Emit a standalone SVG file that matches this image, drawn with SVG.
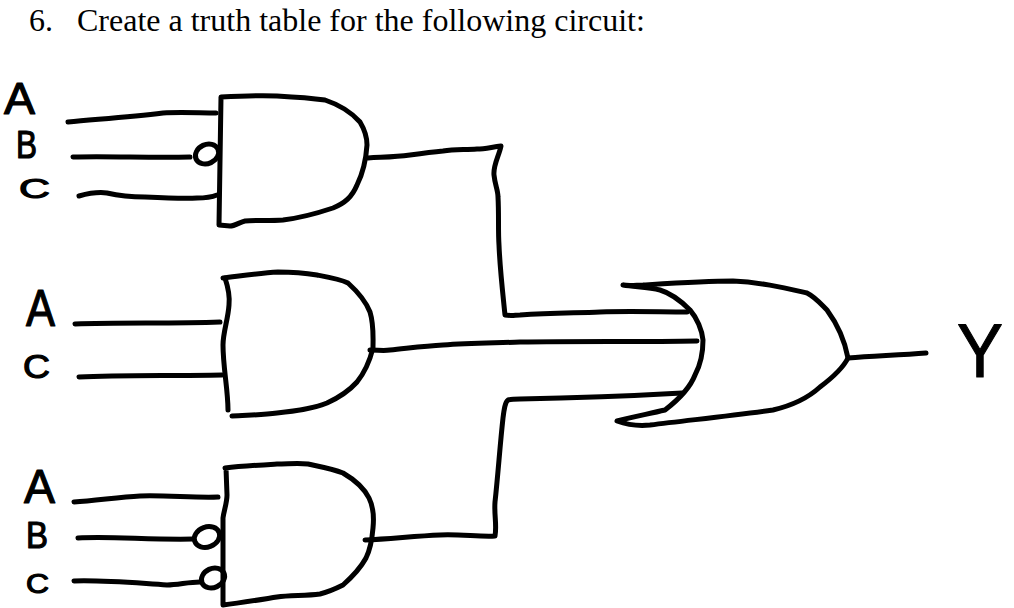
<svg xmlns="http://www.w3.org/2000/svg" width="1014" height="608" viewBox="0 0 1014 608">
<style>
.s{fill:none;stroke:#000;stroke-width:5;stroke-linecap:round;stroke-linejoin:round}
.t{font-family:"Liberation Serif","Times New Roman",serif;font-size:32px;fill:#000}
.h{font-family:"Liberation Sans",Arial,sans-serif;fill:#000;stroke:#000;stroke-width:1.200;stroke-linejoin:round}
</style>
<rect width="1014" height="608" fill="#fff"/>
<text class="t" x="29" y="31">6.</text>
<text class="t" x="77" y="31">Create a truth table for the following circuit:</text>
<g id="connectors">
<path class="s" d="M68 122C100 119 130 117 163 113C180 112 200 113 216 113"/>
<path class="s" d="M73 157C110 156 150 158 190 157"/>
<path class="s" d="M79 196C90 193 100 192 107 193C120 196 130 197 145 197C165 198 185 199 197 198C205 198 212 197 217 195"/>
<path class="s" d="M368 158C385 157 395 157 410 155C425 153 433 152 443 151C455 149 465 150 477 149C485 149 492 147 501 146C499 156 493 165 494 175C495 185 498 190 498 197C499 215 498 230 499 245C500 270 503 295 505 315C512 316 515 315 520 315C550 313 575 313 600 312C630 311 660 312 687 312"/>
<path class="s" d="M75 324C120 322 170 324 220 322"/>
<path class="s" d="M79 377C120 375 170 376 222 375"/>
<path class="s" d="M370 350C378 350 384 351 390 350C410 348 425 346 443 345C470 343 495 343 520 342C580 341 640 342 697 341"/>
<path class="s" d="M74 502C95 501 118 497 140 496C165 495 195 498 218 497"/>
<path class="s" d="M78 538C110 536 150 540 193 539"/>
<path class="s" d="M74 581C105 580 135 583 167 585C178 585 188 582 200 582"/>
<path class="s" d="M365 540C390 539 415 536 440 535C460 534 480 537 495 536C497 525 494 515 495 502C498 475 500 445 503 418C504 410 505 402 508 400C512 399 516 399 520 399C580 398 630 396 682 393"/>
<path class="s" d="M848 358C875 356 900 355 926 353"/>
</g>
<g id="gate-and-1">
<path class="s" d="M221 97C240 96 260 95 277 96C295 97 310 98 325 100C340 105 352 113 360 122C366 132 367 140 367 145C366 160 362 175 357 185C352 197 345 203 333 208C315 214 300 218 283 220C270 221 255 220 245 221C240 222 235 226 230 226L219 225Z"/>
<ellipse class="s" cx="207" cy="154" rx="12" ry="9.500" transform="rotate(-25 207 154)"/>
</g>
<g id="gate-and-2">
<path class="s" d="M223 278C240 276 260 273 278 272C292 272 305 273 317 275C328 277 340 279 348 283C358 292 366 302 370 312C374 325 373 337 373 348C370 360 365 372 357 382C348 392 338 398 327 403C312 409 295 411 277 413C262 415 247 415 232 416"/>
<path class="s" d="M225 278C228 287 230 296 229 305C228 320 223 332 223 345C223 367 228 390 228 410"/>
</g>
<g id="gate-and-3">
<path class="s" d="M225 468C242 466 260 465 277 464C288 464 298 463 308 464C322 467 333 469 343 473C355 480 364 488 369 498C373 506 374 518 373 528C372 540 370 550 366 558C360 569 352 577 343 585C335 589 328 592 320 594C305 596 290 595 277 597C258 600 240 603 223 605L223 518C224 510 227 503 227 495L226 468"/>
<ellipse class="s" cx="207" cy="537" rx="13" ry="10" transform="rotate(-20 207 537)"/>
<ellipse class="s" cx="213" cy="578" rx="12" ry="9.500" transform="rotate(-25 213 578)"/>
</g>
<g id="gate-or">
<path class="s" d="M623 285C630 286 637 285 643 285C675 283 705 281 733 281C760 282 785 288 807 293C815 297 820 303 827 310C838 325 845 342 848 358C843 368 832 378 820 387C808 398 790 406 773 410C730 416 690 420 650 425C640 426 628 425 617 421C632 417 648 414 665 410C678 400 690 388 695 375C702 362 703 350 703 340C702 330 697 318 690 310C680 300 670 293 660 290C648 287 635 287 623 285Z"/>
</g>
<g id="labels">
<text class="h" font-size="44" x="4" y="114" textLength="31" lengthAdjust="spacingAndGlyphs">A</text>
<text class="h" font-size="38" x="16" y="158" textLength="21" lengthAdjust="spacingAndGlyphs">B</text>
<text class="h" font-size="28" x="19" y="198" textLength="31" lengthAdjust="spacingAndGlyphs">C</text>
<text class="h" font-size="51" x="26" y="326" textLength="29" lengthAdjust="spacingAndGlyphs">A</text>
<text class="h" font-size="33" x="23" y="378" textLength="27" lengthAdjust="spacingAndGlyphs">C</text>
<text class="h" font-size="48" x="24" y="503" textLength="31" lengthAdjust="spacingAndGlyphs">A</text>
<text class="h" font-size="36" x="26" y="548" textLength="22" lengthAdjust="spacingAndGlyphs">B</text>
<text class="h" font-size="27" x="26" y="593" textLength="23" lengthAdjust="spacingAndGlyphs">C</text>
<text class="h" font-size="76" x="957" y="377" textLength="46" lengthAdjust="spacingAndGlyphs" stroke-width="0">Y</text>
</g>
</svg>
